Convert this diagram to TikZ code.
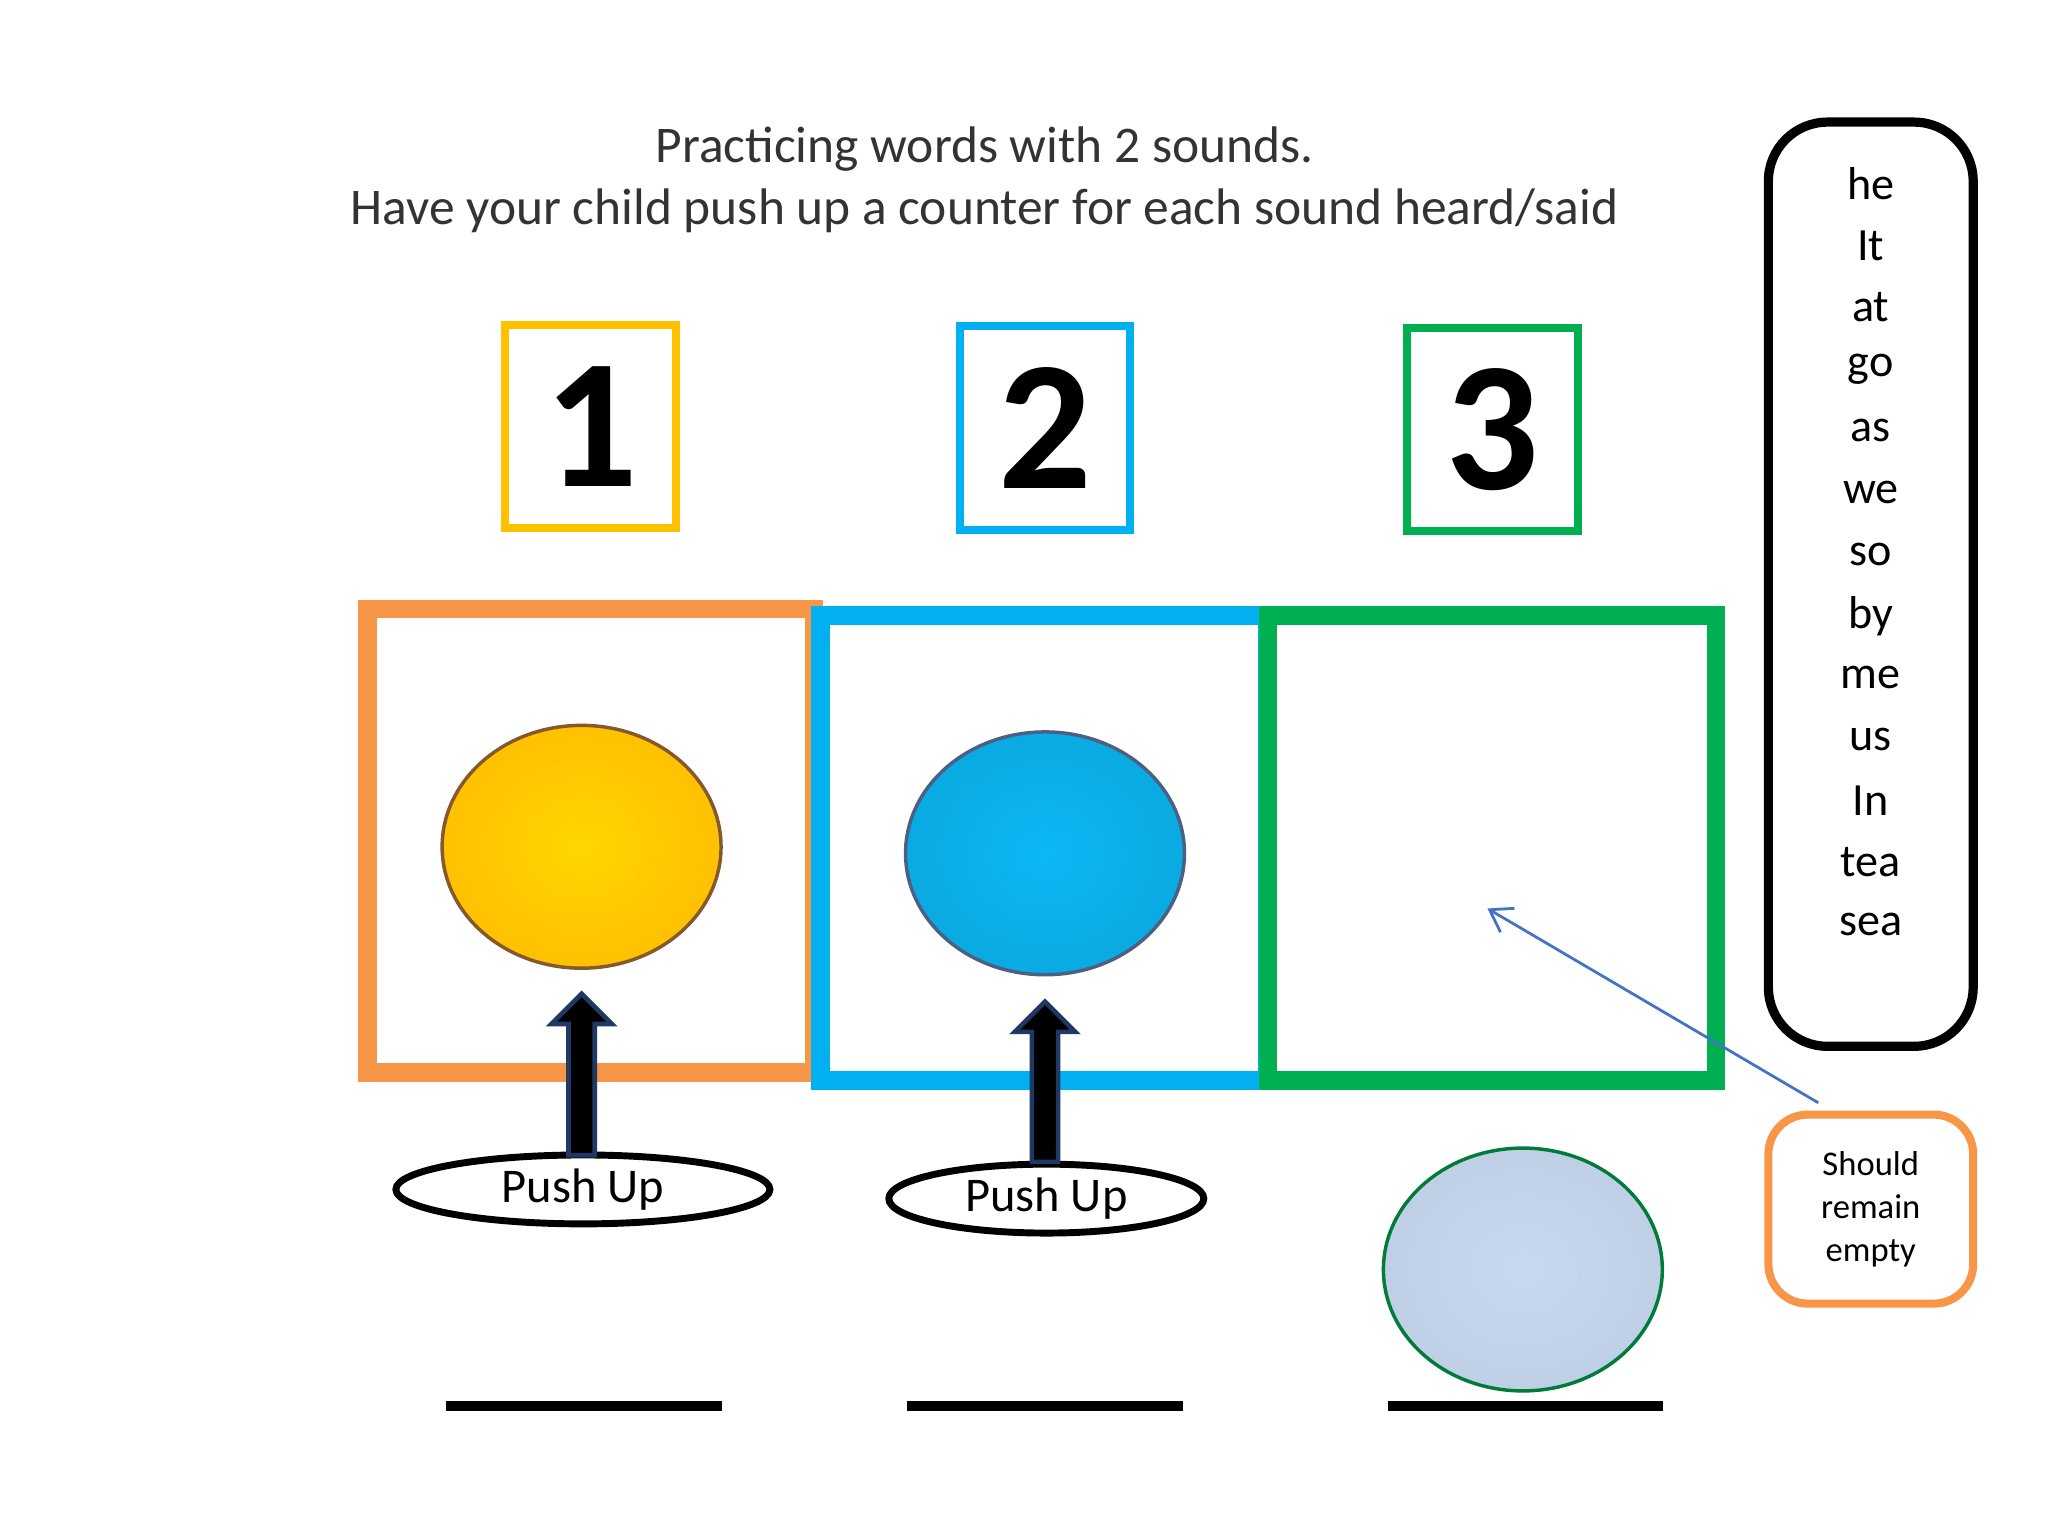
\documentclass[tikz,border=0pt]{standalone}
\usepackage{fontspec}
\setmainfont{Carlito}
\usetikzlibrary{arrows.meta,shapes.geometric}
\definecolor{myorange}{HTML}{F79646}
\definecolor{myblue}{HTML}{00B0F0}
\definecolor{mygreen}{HTML}{00B050}
\definecolor{myyellow}{HTML}{FFC000}
\definecolor{ballyellow}{HTML}{FFCC00}
\definecolor{ballblue}{HTML}{0BB8F5}
\definecolor{lightb}{HTML}{C6D9F1}
\definecolor{navy}{HTML}{1F3864}
\definecolor{thinblue}{HTML}{4472C4}
\tikzset{
 px/.style={x=0.02cm,y=-0.02cm},
 numbox/.style={draw,line width=3.5pt,minimum width=2.6cm,minimum height=3.1cm,font=\bfseries\fontsize{80}{80}\selectfont},
 counter/.style={ellipse,minimum width=4.25cm,minimum height=3.7cm,line width=1.5pt},
 pushup/.style={ellipse,draw,line width=3pt,font=\fontsize{21}{21}\selectfont,inner sep=0pt},
 word/.style={font=\fontsize{20}{20}\selectfont},
 blockarrow/.style={fill=black,draw=navy,line width=2pt}
}
\begin{document}
\begin{tikzpicture}[px]
\useasboundingbox[fill=white] (0,0) rectangle (1560,1170);
\node[font=\fontsize{22.3}{27}\selectfont,text=black!80,align=center] (title) at (750,137) {Practicing words with 2 sounds.\\Have your child push up a counter for each sound heard/said};
\node[numbox,draw=myyellow] (n1) at (450,325) {1};
\node[numbox,draw=myblue] (n2) at (796,326) {2};
\node[numbox,draw=mygreen] (n3) at (1137,327) {3};
\draw[myorange,line width=8pt] (280,464) rectangle (620,817);
\draw[myblue,line width=8pt] (625,469) rectangle (965,823);
\draw[mygreen,line width=8pt] (966,469) rectangle (1307,823);
\node[counter,draw=brown!70!black,inner color=ballyellow!80!yellow,outer color=ballyellow!85!orange] (c1) at (443,645) {};
\node[counter,draw=navy!80,inner color=ballblue,outer color=ballblue!92!black] (c2) at (796,650) {};
\node[counter,draw=mygreen!70!black,inner color=lightb,outer color=lightb!90!gray] (c3) at (1160,967) {};
\node[pushup,minimum width=5.7cm,minimum height=1.05cm] (p1) at (444,906) {Push Up};
\node[pushup,minimum width=4.8cm,minimum height=1.05cm] (p2) at (797,913) {Push Up};
\coordinate (a1) at (443,757);
\coordinate (a2) at (796,763);
\draw[blockarrow] (433,880) -- (433,780) -- (420,780) -- (a1) -- (466,780) -- (453,780) -- (453,880) -- cycle;
\draw[blockarrow] (786,885) -- (786,786) -- (773,786) -- (a2) -- (819,786) -- (806,786) -- (806,885) -- cycle;
\draw[line width=4pt] (340,1071) -- (550,1071);
\draw[line width=4pt] (691,1071) -- (901,1071);
\draw[line width=4pt] (1057,1071) -- (1267,1071);
\draw[line width=4pt,rounded corners=0.9cm] (1347,93) rectangle (1503,797);
\foreach \w [count=\i] in {he,It,at,go,as,we,so,by,me,us,In,tea,sea}
  \node[word] (w\i) at (1425,93+47*\i) {\w};
\node[draw=myorange,line width=3.5pt,rounded corners=0.6cm,minimum width=3.12cm,minimum height=2.88cm,align=center,font=\fontsize{15}{18.5}\selectfont] (note) at (1425,921) {Should\\remain\\empty};
\coordinate (tip) at (1133,692);
\draw[thinblue,line width=1.2pt,-{Straight Barb[length=9pt,width=12pt]}] (1385,840) -- (tip);
\end{tikzpicture}
\end{document}
